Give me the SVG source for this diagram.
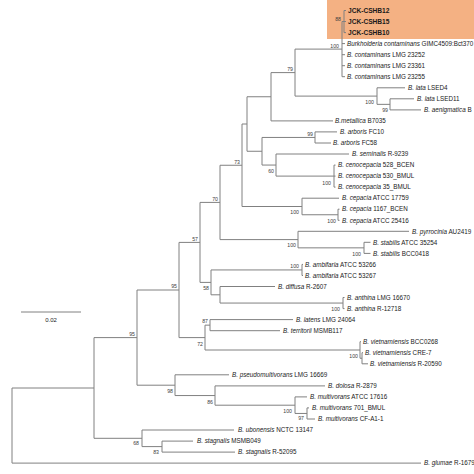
<svg xmlns="http://www.w3.org/2000/svg" width="474" height="474" viewBox="0 0 474 474">
<style>
.ln{fill:none;stroke:#808080;stroke-width:1}
.t{font-family:"Liberation Sans",Arial,sans-serif;font-size:6.3px;fill:#1a1a1a}
.b{font-weight:bold;font-size:6.6px}
.i{font-style:italic}
.bs{font-family:"Liberation Sans",Arial,sans-serif;font-size:5.2px;fill:#404040;text-anchor:end}
</style>
<rect x="327" y="0" width="147" height="39" fill="#f4b183"/>
<g id="connectors" class="ln">
<path d="M12,388V463.1M12,388H94M94,337.6V438.3M94,337.6H137M94,438.3H142M137,290V385.2M137,290H179M137,385.2H175M179,242.4V337.6M179,242.4H200M179,337.6H205M200,202.4V282.4M200,202.4H220M200,282.4H211M220,165.25V239.6M220,165.25H242M220,239.6H298M242,124V206.5M242,124H247M242,206.5H302M247,96.75V151.25M247,96.75H271M247,151.25H262M271,72.6V120.9M271,72.6H295M295,49.1V96.1M295,49.1H342M295,96.1H377M342,21.5V76.7M342,21.5H344M344,10.5V32.6M377,87.8V104.35M377,104.35H390M390,98.8V109.9M262,137.45V165.05M262,137.45H315M262,165.05H276M315,131.9V143M276,154V176.1M276,176.1H334M334,165.1V187.1M302,198.2V214.75M302,214.75H338M338,209.2V220.3M298,231.3V247.85M298,247.85H364M364,242.3V253.4M211,269.95V294.8M211,269.95H302M211,294.8H220M302,264.4V275.5M220,286.5V303.05M220,303.05H343M343,297.5V308.6M205,325.15V350M205,325.15H210M205,350H360M210,319.6V330.7M360,341.7V358.25M360,358.25H362M362,352.7V363.8M175,374.8V395.55M175,395.55H215M215,385.9V405.2M215,405.2H295M295,396.9V413.45M295,413.45H307M307,407.9V419M142,430V446.6M142,446.6H162M162,441.1V452.1"/>
<path d="M344,10.5H346M344,21.5H346M344,32.6H346M342,43.6H345M342,54.7H345M342,65.7H345M342,76.7H345M377,87.8H405M390,98.8H414M390,109.9H421M271,120.9H333M315,131.9H337M315,143H331M276,154H349M334,165.1H335.5M334,176.1H335.5M334,187.1H335.5M302,198.2H339M338,209.2H339.5M338,220.3H339.5M298,231.3H409M364,242.3H370.5M364,253.4H370.5M302,264.4H303M302,275.5H303M220,286.5H275M343,297.5H344.5M343,308.6H344.5M210,319.6H293M210,330.7H280M360,341.7H361M362,352.7H363M362,363.8H368M175,374.8H229M215,385.9H325M295,396.9H307M307,407.9H309M307,419H315M142,430H234M162,441.1H193M162,452.1H235M12,463.1H421"/>
<path d="M21,312H81"/>
</g>
<g id="scale"><text x="51" y="322" class="t" text-anchor="middle" style="font-size:6px">0.02</text></g>
<g id="leaves" class="t">
<g id="n0"><text x="348" y="12.8" class="b">JCK-CSHB12</text></g>
<g id="n1"><text x="348" y="23.8" class="b">JCK-CSHB15</text></g>
<g id="n2"><text x="348" y="34.9" class="b">JCK-CSHB10</text></g>
<g id="n3"><text x="347" y="45.8"><tspan class="i">Burkholderia contaminans</tspan> GIMC4509:Bct370</text></g>
<g id="n4"><text x="347" y="56.9"><tspan class="i">B. contaminans</tspan> LMG 23252</text></g>
<g id="n5"><text x="347" y="67.9"><tspan class="i">B. contaminans</tspan> LMG 23361</text></g>
<g id="n6"><text x="347" y="78.9"><tspan class="i">B. contaminans</tspan> LMG 23255</text></g>
<g id="n7"><text x="408" y="90"><tspan class="i">B. lata</tspan> LSED4</text></g>
<g id="n8"><text x="417" y="101"><tspan class="i">B. lata</tspan> LSED11</text></g>
<g id="n9"><text x="424" y="112.1"><tspan class="i">B. aenigmatica</tspan> B</text></g>
<g id="n10"><text x="335" y="123.1"><tspan class="i">B.metallica</tspan> B7035</text></g>
<g id="n11"><text x="340" y="134.1"><tspan class="i">B. arboris</tspan> FC10</text></g>
<g id="n12"><text x="333" y="145.2"><tspan class="i">B. arboris</tspan> FC58</text></g>
<g id="n13"><text x="352" y="156.2"><tspan class="i">B. seminalis</tspan> R-9239</text></g>
<g id="n14"><text x="338" y="167.3"><tspan class="i">B. cenocepacia</tspan> 528_BCEN</text></g>
<g id="n15"><text x="338" y="178.3"><tspan class="i">B. cenocepacia</tspan> 530_BMUL</text></g>
<g id="n16"><text x="338" y="189.3"><tspan class="i">B. cenocepacia</tspan> 35_BMUL</text></g>
<g id="n17"><text x="342" y="200.4"><tspan class="i">B. cepacia</tspan> ATCC 17759</text></g>
<g id="n18"><text x="342" y="211.4"><tspan class="i">B. cepacia</tspan> 1167_BCEN</text></g>
<g id="n19"><text x="342" y="222.5"><tspan class="i">B. cepacia</tspan> ATCC 25416</text></g>
<g id="n20"><text x="412" y="233.5"><tspan class="i">B. pyrrocinia</tspan> AU2419</text></g>
<g id="n21"><text x="373" y="244.5"><tspan class="i">B. stabilis</tspan> ATCC 35254</text></g>
<g id="n22"><text x="373" y="255.6"><tspan class="i">B. stabilis</tspan> BCC0418</text></g>
<g id="n23"><text x="305" y="266.6"><tspan class="i">B. ambifaria</tspan> ATCC 53266</text></g>
<g id="n24"><text x="305" y="277.7"><tspan class="i">B. ambifaria</tspan> ATCC 53267</text></g>
<g id="n25"><text x="278" y="288.7"><tspan class="i">B. diffusa</tspan> R-2607</text></g>
<g id="n26"><text x="347" y="299.7"><tspan class="i">B. anthina</tspan> LMG 16670</text></g>
<g id="n27"><text x="347" y="310.8"><tspan class="i">B. anthina</tspan> R-12718</text></g>
<g id="n28"><text x="296" y="321.8"><tspan class="i">B. latens</tspan> LMG 24064</text></g>
<g id="n29"><text x="283" y="332.9"><tspan class="i">B. territorii</tspan> MSMB117</text></g>
<g id="n30"><text x="363" y="343.9"><tspan class="i">B. vietnamiensis</tspan> BCC0268</text></g>
<g id="n31"><text x="365" y="354.9"><tspan class="i">B. vietnamiensis</tspan> CRE-7</text></g>
<g id="n32"><text x="370" y="366"><tspan class="i">B. vietnamiensis</tspan> R-20590</text></g>
<g id="n33"><text x="232" y="377"><tspan class="i">B. pseudomultivorans</tspan> LMG 16669</text></g>
<g id="n34"><text x="328" y="388.1"><tspan class="i">B. dolosa</tspan> R-2879</text></g>
<g id="n35"><text x="310" y="399.1"><tspan class="i">B. multivorans</tspan> ATCC 17616</text></g>
<g id="n36"><text x="312" y="410.1"><tspan class="i">B. multivorans</tspan> 701_BMUL</text></g>
<g id="n37"><text x="318" y="421.2"><tspan class="i">B. multivorans</tspan> CF-A1-1</text></g>
<g id="n38"><text x="238" y="432.2"><tspan class="i">B. ubonensis</tspan> NCTC 13147</text></g>
<g id="n39"><text x="197" y="443.3"><tspan class="i">B. stagnalis</tspan> MSMB049</text></g>
<g id="n40"><text x="238" y="454.3"><tspan class="i">B. stagnalis</tspan> R-52095</text></g>
<g id="n41"><text x="424" y="465.3"><tspan class="i">B. glumae</tspan> R-1679</text></g>
</g>
<g id="support" class="bs">
<text x="341" y="21">88</text>
<text x="339" y="47.5">100</text>
<text x="293" y="70.5">79</text>
<text x="374" y="104">100</text>
<text x="388" y="111.5">99</text>
<text x="313" y="136">99</text>
<text x="274" y="173">60</text>
<text x="331" y="185">100</text>
<text x="240" y="163.5">73</text>
<text x="299" y="214">100</text>
<text x="336" y="223">100</text>
<text x="218" y="200.5">70</text>
<text x="296" y="247">100</text>
<text x="361" y="255.5">100</text>
<text x="198" y="240.5">57</text>
<text x="299" y="268">100</text>
<text x="209" y="290">58</text>
<text x="340" y="311">100</text>
<text x="177" y="288">95</text>
<text x="208" y="323">87</text>
<text x="203" y="346">72</text>
<text x="358" y="358">100</text>
<text x="135" y="335.5">95</text>
<text x="173" y="393">98</text>
<text x="213" y="403.5">86</text>
<text x="292" y="413">100</text>
<text x="304" y="420">97</text>
<text x="139" y="445">68</text>
<text x="159" y="454">83</text>
</g>
</svg>
